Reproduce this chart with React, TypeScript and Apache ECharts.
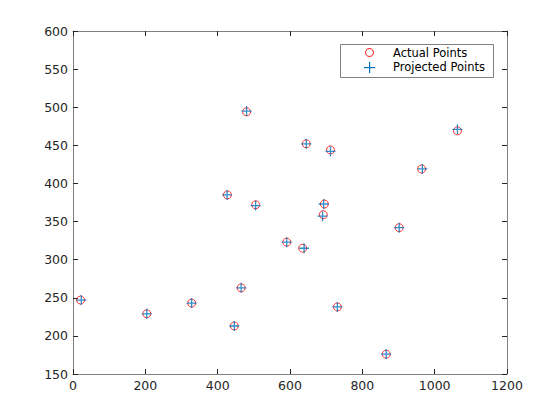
import React, { useEffect, useRef } from "react";
import * as echarts from "echarts";

const actualX = [21, 204, 328, 446, 465, 427, 480, 505, 591, 635, 645, 712, 695, 692, 731, 866, 902, 964, 1063];
const actualY = [247, 229, 243, 213, 263, 385, 494, 372, 323, 315, 452, 444, 373, 359, 238, 176, 342, 419, 469];
const projX = [23, 204, 328, 446, 465, 426, 480, 505, 591, 639, 645, 712, 693, 690, 731, 866, 902, 966, 1063];
const projY = [247, 229, 243, 213, 263, 385, 495, 371, 323, 315, 452, 442, 373, 357, 238, 176, 342, 419, 471];
const seriesNames = ["Actual Points", "Projected Points"];

const PLUS = "path://M4.35,0H5.65V4.35H10V5.65H5.65V10H4.35V5.65H0V4.35H4.35Z";
const FONT = "DejaVu Sans";
const TXT = "#262626";
const BLUE = "#0072bd";

export default function App() {
  const ref = useRef<HTMLDivElement>(null);
  useEffect(() => {
    const chart = echarts.init(ref.current!, null, { renderer: "svg" });
    const mk = (show: boolean) => ({
      type: "value" as const,
      axisLine: { show: true, onZero: false, lineStyle: { color: "#808080", width: 1 } },
      axisTick: { show: true, inside: true, length: 5, lineStyle: { color: TXT, width: 1 } },
      splitLine: { show: false },
      axisLabel: show
        ? { color: TXT, fontSize: 12.5, fontFamily: FONT, margin: 5, formatter: (v: number) => String(v) }
        : { show: false },
    });
    chart.setOption({
      animation: false,
      grid: { left: 73, right: 53, top: 31, bottom: 46, containLabel: false },
      xAxis: [
        { ...mk(true), min: 0, max: 1200, interval: 200, position: "bottom" },
        { ...mk(false), min: 0, max: 1200, interval: 200, position: "top" },
      ],
      yAxis: [
        { ...mk(true), min: 150, max: 600, interval: 50, position: "left" },
        { ...mk(false), min: 150, max: 600, interval: 50, position: "right" },
      ],
      series: [
        {
          name: seriesNames[0],
          type: "scatter",
          symbol: "circle",
          symbolSize: 8,
          itemStyle: { color: "rgba(0,0,0,0)", borderColor: "#ff0000", borderWidth: 1 },
          data: actualX.map((x, i) => [x, actualY[i]]),
        },
        {
          name: seriesNames[1],
          type: "scatter",
          symbol: PLUS,
          symbolSize: 10,
          itemStyle: { color: BLUE },
          data: projX.map((x, i) => [x, projY[i]]),
        },
      ],
      graphic: [
        { type: "rect", shape: { x: 340.5, y: 44.5, width: 153, height: 33 }, style: { fill: "#fff", stroke: "#808080", lineWidth: 1 }, z: 10 },
        { type: "circle", shape: { cx: 369.5, cy: 52.5, r: 4 }, style: { fill: "none", stroke: "#ff0000", lineWidth: 1 }, z: 11 },
        { type: "rect", shape: { x: 364, y: 67, width: 11, height: 1.2 }, style: { fill: BLUE }, z: 11 },
        { type: "rect", shape: { x: 369, y: 62, width: 1.2, height: 11 }, style: { fill: BLUE }, z: 11 },
        { type: "text", x: 393, y: 52.5, style: { text: seriesNames[0], fill: "#000", font: `11.5px '${FONT}'`, verticalAlign: "middle" }, z: 11 },
        { type: "text", x: 393, y: 67, style: { text: seriesNames[1], fill: "#000", font: `11.5px '${FONT}'`, verticalAlign: "middle" }, z: 11 },
      ],
    });
    return () => chart.dispose();
  }, []);
  return <div ref={ref} style={{ width: 560, height: 420, position: "absolute", left: 0, top: 0 }} />;
}
